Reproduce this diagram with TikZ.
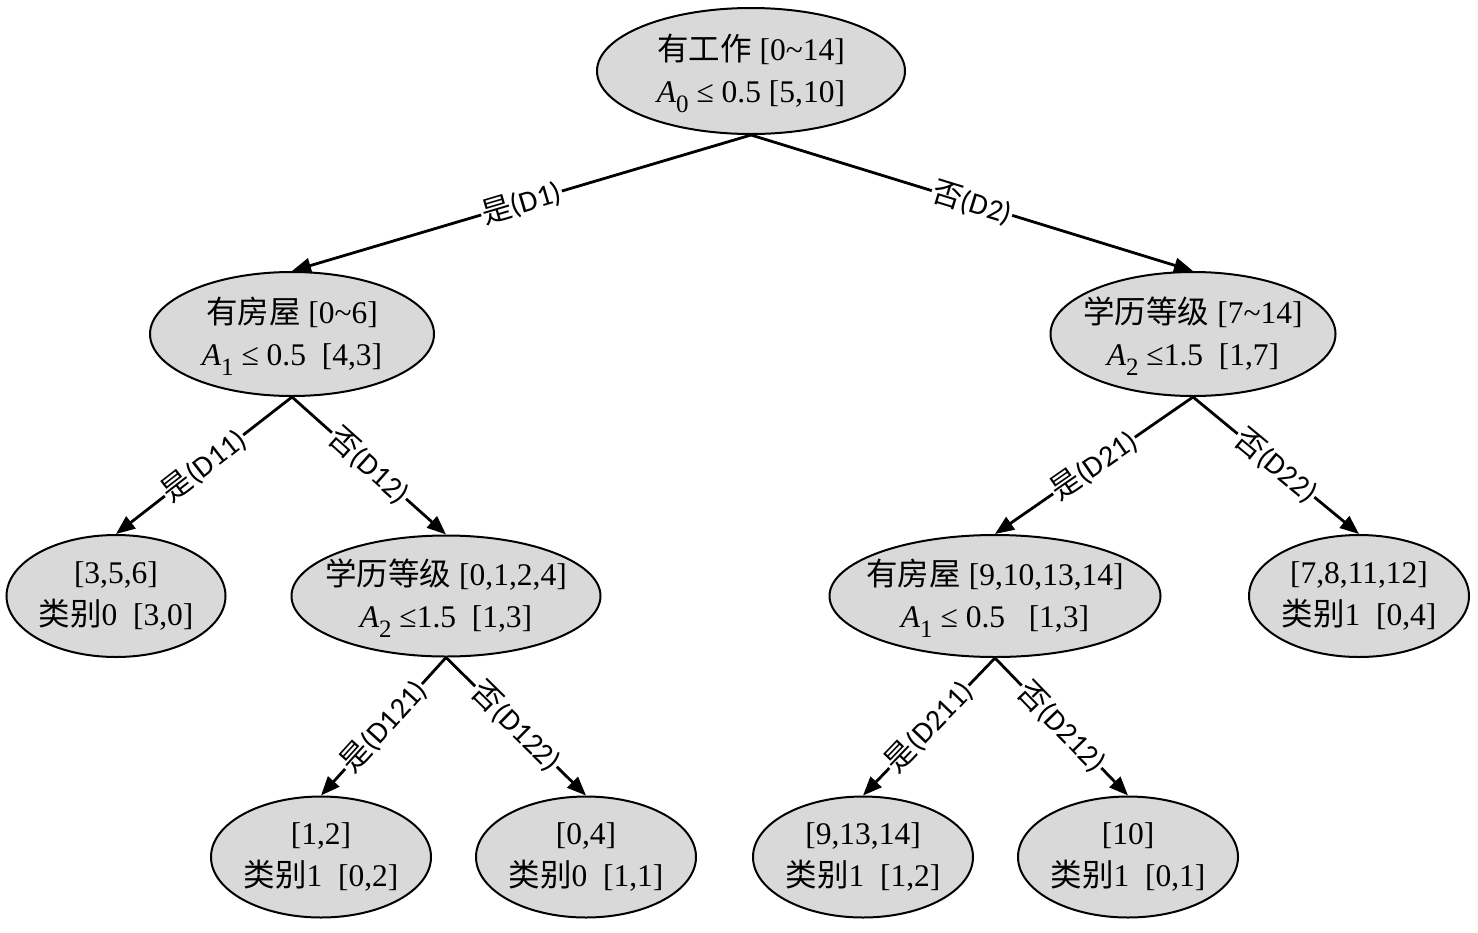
\documentclass[tikz,border=0pt]{standalone}
\usepackage{fontspec}
\setmainfont{Liberation Serif}
\newfontfamily\cjk{Noto Sans CJK SC}
\newfontfamily\lab{Carlito}
\usetikzlibrary{shapes.geometric,arrows.meta}
\definecolor{nodegray}{RGB}{217,217,217}
\newcommand\Asub[1]{\textit{A}\raisebox{-0.3em}{\fontsize{25}{25}\selectfont #1}}
\newcommand\upstrut{\rule{0pt}{31pt}}
\begin{document}
\begin{tikzpicture}[x=1pt,y=-1pt,
 tn/.style={ellipse, draw, line width=2pt, fill=nodegray, inner xsep=-50pt, inner ysep=-30pt, align=center, font=\fontsize{31.5}{42}\selectfont},
 leafsz/.style={minimum width=220pt, minimum height=121pt},
 edge/.style={line width=2.8pt, -{Triangle[length=19pt,width=15pt]}},
 elab/.style={midway, sloped, fill=white, inner sep=1pt, font=\lab\fontsize{30}{30}\selectfont}]
\useasboundingbox (0,0) rectangle (1478,932);
% level 0
\node[tn, minimum width=308pt, minimum height=126pt] (r) at (751,71)
  {\upstrut{\cjk 有工作} [0\textasciitilde14]\\ \Asub{0} ≤ 0.5 [5,10]};
% level 1
\node[tn, minimum width=284pt, minimum height=124pt] (l) at (292,334)
  {\upstrut{\cjk 有房屋} [0\textasciitilde6]\\ \Asub{1} ≤ 0.5\ \ [4,3]};
\node[tn, minimum width=285pt, minimum height=124pt] (rr) at (1193,334)
  {\upstrut{\cjk 学历等级} [7\textasciitilde14]\\ \Asub{2} ≤1.5\ \ [1,7]};
% level 2
\node[tn, minimum width=219pt, minimum height=122pt] (ll) at (116,596)
  {[3,5,6]\\ {\cjk 类别}0\ \ [3,0]};
\node[tn, minimum width=309pt, minimum height=121pt] (lr) at (446,596)
  {\upstrut{\cjk 学历等级} [0,1,2,4]\\ \Asub{2} ≤1.5\ \ [1,3]};
\node[tn, minimum width=331pt, minimum height=122pt] (rl) at (995,596)
  {\upstrut{\cjk 有房屋} [9,10,13,14]\\ \Asub{1} ≤ 0.5\ \ \ [1,3]};
\node[tn, minimum width=220pt, minimum height=122pt] (rrr) at (1359,596)
  {[7,8,11,12]\\ {\cjk 类别}1\ \ [0,4]};
% level 3
\node[tn, leafsz] (lrl) at (321,857) {[1,2]\\ {\cjk 类别}1\ \ [0,2]};
\node[tn, leafsz] (lrr) at (586,857) {[0,4]\\ {\cjk 类别}0\ \ [1,1]};
\node[tn, leafsz] (rll) at (863,857) {[9,13,14]\\ {\cjk 类别}1\ \ [1,2]};
\node[tn, leafsz] (rlr) at (1128,857) {[10]\\ {\cjk 类别}1\ \ [0,1]};
% edges
\draw[edge] (r.south) -- node[elab]{{\cjk 是}(D1)} (l.north);
\draw[edge] (r.south) -- node[elab]{{\cjk 否}(D2)} (rr.north);
\draw[edge] (l.south) -- node[elab]{{\cjk 是}(D11)} (ll.north);
\draw[edge] (l.south) -- node[elab]{{\cjk 否}(D12)} (lr.north);
\draw[edge] (rr.south) -- node[elab]{{\cjk 是}(D21)} (rl.north);
\draw[edge] (rr.south) -- node[elab]{{\cjk 否}(D22)} (rrr.north);
\draw[edge] (lr.south) -- node[elab]{{\cjk 是}(D121)} (lrl.north);
\draw[edge] (lr.south) -- node[elab]{{\cjk 否}(D122)} (lrr.north);
\draw[edge] (rl.south) -- node[elab]{{\cjk 是}(D211)} (rll.north);
\draw[edge] (rl.south) -- node[elab]{{\cjk 否}(D212)} (rlr.north);
\end{tikzpicture}
\end{document}
